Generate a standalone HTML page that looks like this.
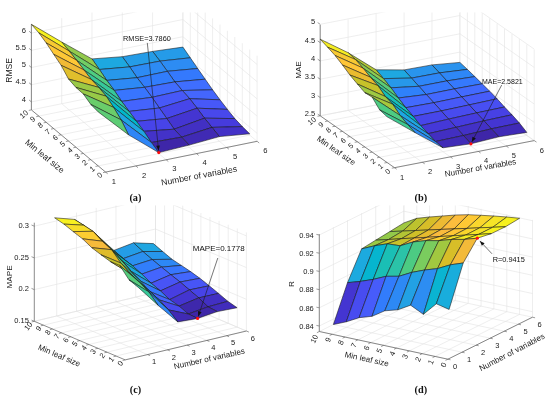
<!DOCTYPE html>
<html lang="en">
<head>
<meta charset="utf-8">
<title>Figure</title>
<style>
html,body{margin:0;padding:0;background:#fff;}
body{width:550px;height:401px;overflow:hidden;}
svg{display:block;font-family:"Liberation Sans",sans-serif;}
.cap{font-family:"Liberation Serif",serif;font-weight:bold;font-size:10.3px;fill:#111;}
</style>
</head>
<body>
<svg width="550" height="401" viewBox="0 0 550 401">
<rect x="0" y="0" width="550" height="401" fill="#ffffff"/>
<clipPath id="clip1"><rect x="0" y="12.5" width="280" height="190"/></clipPath>
<g clip-path="url(#clip1)">
<g stroke-linecap="butt">
<line x1="105.6" y1="172.1" x2="31.4" y2="109.9" stroke="#e2e2e2" stroke-width="0.6"/>
<line x1="31.4" y1="109.9" x2="31.4" y2="24.3" stroke="#e2e2e2" stroke-width="0.6"/>
<line x1="135.9" y1="165.9" x2="61.7" y2="103.7" stroke="#e2e2e2" stroke-width="0.6"/>
<line x1="61.7" y1="103.7" x2="61.7" y2="18.1" stroke="#e2e2e2" stroke-width="0.6"/>
<line x1="166.2" y1="159.8" x2="92" y2="97.6" stroke="#e2e2e2" stroke-width="0.6"/>
<line x1="92" y1="97.6" x2="92" y2="12" stroke="#e2e2e2" stroke-width="0.6"/>
<line x1="196.5" y1="153.6" x2="122.3" y2="91.4" stroke="#e2e2e2" stroke-width="0.6"/>
<line x1="122.3" y1="91.4" x2="122.3" y2="5.8" stroke="#e2e2e2" stroke-width="0.6"/>
<line x1="226.8" y1="147.5" x2="152.6" y2="85.3" stroke="#e2e2e2" stroke-width="0.6"/>
<line x1="152.6" y1="85.3" x2="152.6" y2="-0.3" stroke="#e2e2e2" stroke-width="0.6"/>
<line x1="257.1" y1="141.3" x2="182.9" y2="79.1" stroke="#e2e2e2" stroke-width="0.6"/>
<line x1="182.9" y1="79.1" x2="182.9" y2="-6.5" stroke="#e2e2e2" stroke-width="0.6"/>
<line x1="105.6" y1="172.1" x2="257.1" y2="141.3" stroke="#e2e2e2" stroke-width="0.6"/>
<line x1="257.1" y1="141.3" x2="257.1" y2="55.7" stroke="#e2e2e2" stroke-width="0.6"/>
<line x1="98.2" y1="165.9" x2="249.7" y2="135.1" stroke="#e2e2e2" stroke-width="0.6"/>
<line x1="249.7" y1="135.1" x2="249.7" y2="49.5" stroke="#e2e2e2" stroke-width="0.6"/>
<line x1="90.8" y1="159.7" x2="242.3" y2="128.9" stroke="#e2e2e2" stroke-width="0.6"/>
<line x1="242.3" y1="128.9" x2="242.3" y2="43.3" stroke="#e2e2e2" stroke-width="0.6"/>
<line x1="83.3" y1="153.4" x2="234.8" y2="122.6" stroke="#e2e2e2" stroke-width="0.6"/>
<line x1="234.8" y1="122.6" x2="234.8" y2="37" stroke="#e2e2e2" stroke-width="0.6"/>
<line x1="75.9" y1="147.2" x2="227.4" y2="116.4" stroke="#e2e2e2" stroke-width="0.6"/>
<line x1="227.4" y1="116.4" x2="227.4" y2="30.8" stroke="#e2e2e2" stroke-width="0.6"/>
<line x1="68.5" y1="141" x2="220" y2="110.2" stroke="#e2e2e2" stroke-width="0.6"/>
<line x1="220" y1="110.2" x2="220" y2="24.6" stroke="#e2e2e2" stroke-width="0.6"/>
<line x1="61.1" y1="134.8" x2="212.6" y2="104" stroke="#e2e2e2" stroke-width="0.6"/>
<line x1="212.6" y1="104" x2="212.6" y2="18.4" stroke="#e2e2e2" stroke-width="0.6"/>
<line x1="53.7" y1="128.6" x2="205.2" y2="97.8" stroke="#e2e2e2" stroke-width="0.6"/>
<line x1="205.2" y1="97.8" x2="205.2" y2="12.2" stroke="#e2e2e2" stroke-width="0.6"/>
<line x1="46.2" y1="122.3" x2="197.7" y2="91.5" stroke="#e2e2e2" stroke-width="0.6"/>
<line x1="197.7" y1="91.5" x2="197.7" y2="5.9" stroke="#e2e2e2" stroke-width="0.6"/>
<line x1="38.8" y1="116.1" x2="190.3" y2="85.3" stroke="#e2e2e2" stroke-width="0.6"/>
<line x1="190.3" y1="85.3" x2="190.3" y2="-0.3" stroke="#e2e2e2" stroke-width="0.6"/>
<line x1="31.4" y1="109.9" x2="182.9" y2="79.1" stroke="#e2e2e2" stroke-width="0.6"/>
<line x1="182.9" y1="79.1" x2="182.9" y2="-6.5" stroke="#e2e2e2" stroke-width="0.6"/>
<line x1="31.4" y1="101.9" x2="182.9" y2="71.1" stroke="#e2e2e2" stroke-width="0.6"/>
<line x1="182.9" y1="71.1" x2="257.1" y2="133.3" stroke="#e2e2e2" stroke-width="0.6"/>
<line x1="31.4" y1="84.7" x2="182.9" y2="53.9" stroke="#e2e2e2" stroke-width="0.6"/>
<line x1="182.9" y1="53.9" x2="257.1" y2="116.1" stroke="#e2e2e2" stroke-width="0.6"/>
<line x1="31.4" y1="67.5" x2="182.9" y2="36.7" stroke="#e2e2e2" stroke-width="0.6"/>
<line x1="182.9" y1="36.7" x2="257.1" y2="98.9" stroke="#e2e2e2" stroke-width="0.6"/>
<line x1="31.4" y1="50.3" x2="182.9" y2="19.5" stroke="#e2e2e2" stroke-width="0.6"/>
<line x1="182.9" y1="19.5" x2="257.1" y2="81.7" stroke="#e2e2e2" stroke-width="0.6"/>
<line x1="31.4" y1="33.1" x2="182.9" y2="2.3" stroke="#e2e2e2" stroke-width="0.6"/>
<line x1="182.9" y1="2.3" x2="257.1" y2="64.5" stroke="#e2e2e2" stroke-width="0.6"/>
</g>
<line x1="105.6" y1="172.1" x2="257.1" y2="141.3" stroke="#5a5a5a" stroke-width="0.7"/>
<line x1="105.6" y1="172.1" x2="31.4" y2="109.9" stroke="#5a5a5a" stroke-width="0.7"/>
<line x1="31.4" y1="109.9" x2="31.4" y2="24.3" stroke="#5a5a5a" stroke-width="0.7"/>
<line x1="105.6" y1="172.1" x2="107.7" y2="173.8" stroke="#5a5a5a" stroke-width="0.6"/>
<line x1="135.9" y1="165.9" x2="138" y2="167.7" stroke="#5a5a5a" stroke-width="0.6"/>
<line x1="166.2" y1="159.8" x2="168.3" y2="161.5" stroke="#5a5a5a" stroke-width="0.6"/>
<line x1="196.5" y1="153.6" x2="198.6" y2="155.4" stroke="#5a5a5a" stroke-width="0.6"/>
<line x1="226.8" y1="147.5" x2="228.9" y2="149.2" stroke="#5a5a5a" stroke-width="0.6"/>
<line x1="257.1" y1="141.3" x2="259.2" y2="143" stroke="#5a5a5a" stroke-width="0.6"/>
<line x1="105.6" y1="172.1" x2="103" y2="172.6" stroke="#5a5a5a" stroke-width="0.6"/>
<line x1="98.2" y1="165.9" x2="95.5" y2="166.4" stroke="#5a5a5a" stroke-width="0.6"/>
<line x1="90.8" y1="159.7" x2="88.1" y2="160.2" stroke="#5a5a5a" stroke-width="0.6"/>
<line x1="83.3" y1="153.4" x2="80.7" y2="154" stroke="#5a5a5a" stroke-width="0.6"/>
<line x1="75.9" y1="147.2" x2="73.3" y2="147.8" stroke="#5a5a5a" stroke-width="0.6"/>
<line x1="68.5" y1="141" x2="65.9" y2="141.5" stroke="#5a5a5a" stroke-width="0.6"/>
<line x1="61.1" y1="134.8" x2="58.4" y2="135.3" stroke="#5a5a5a" stroke-width="0.6"/>
<line x1="53.7" y1="128.6" x2="51" y2="129.1" stroke="#5a5a5a" stroke-width="0.6"/>
<line x1="46.2" y1="122.3" x2="43.6" y2="122.9" stroke="#5a5a5a" stroke-width="0.6"/>
<line x1="38.8" y1="116.1" x2="36.2" y2="116.7" stroke="#5a5a5a" stroke-width="0.6"/>
<line x1="31.4" y1="109.9" x2="28.8" y2="110.4" stroke="#5a5a5a" stroke-width="0.6"/>
<line x1="31.4" y1="101.9" x2="29.1" y2="100" stroke="#5a5a5a" stroke-width="0.6"/>
<line x1="31.4" y1="84.7" x2="29.1" y2="82.8" stroke="#5a5a5a" stroke-width="0.6"/>
<line x1="31.4" y1="67.5" x2="29.1" y2="65.6" stroke="#5a5a5a" stroke-width="0.6"/>
<line x1="31.4" y1="50.3" x2="29.1" y2="48.4" stroke="#5a5a5a" stroke-width="0.6"/>
<line x1="31.4" y1="33.1" x2="29.1" y2="31.2" stroke="#5a5a5a" stroke-width="0.6"/>
<g font-size="7.6" fill="#202020">
<text x="113.8" y="183.7" text-anchor="middle">1</text>
<text x="144.1" y="177.5" text-anchor="middle">2</text>
<text x="174.4" y="171.4" text-anchor="middle">3</text>
<text x="204.7" y="165.2" text-anchor="middle">4</text>
<text x="235" y="159.1" text-anchor="middle">5</text>
<text x="265.3" y="152.9" text-anchor="middle">6</text>
<text x="102.9" y="175.7" text-anchor="end" transform="rotate(-40 102.9 175.7)">0</text>
<text x="95.5" y="169.5" text-anchor="end" transform="rotate(-40 95.5 169.5)">1</text>
<text x="88.1" y="163.3" text-anchor="end" transform="rotate(-40 88.1 163.3)">2</text>
<text x="80.6" y="157" text-anchor="end" transform="rotate(-40 80.6 157)">3</text>
<text x="73.2" y="150.8" text-anchor="end" transform="rotate(-40 73.2 150.8)">4</text>
<text x="65.8" y="144.6" text-anchor="end" transform="rotate(-40 65.8 144.6)">5</text>
<text x="58.4" y="138.4" text-anchor="end" transform="rotate(-40 58.4 138.4)">6</text>
<text x="51" y="132.2" text-anchor="end" transform="rotate(-40 51 132.2)">7</text>
<text x="43.5" y="125.9" text-anchor="end" transform="rotate(-40 43.5 125.9)">8</text>
<text x="36.1" y="119.7" text-anchor="end" transform="rotate(-40 36.1 119.7)">9</text>
<text x="28.7" y="113.5" text-anchor="end" transform="rotate(-40 28.7 113.5)">10</text>
<text x="26" y="101.6" text-anchor="end">4</text>
<text x="26" y="84.4" text-anchor="end">4.5</text>
<text x="26" y="67.2" text-anchor="end">5</text>
<text x="26" y="50" text-anchor="end">5.5</text>
<text x="26" y="32.8" text-anchor="end">6</text>
</g>
<g font-size="8.6" fill="#202020" text-anchor="middle">
<text x="12.1" y="70.4" transform="rotate(-90 12.1 70.4)">RMSE</text>
<text x="43" y="158.4" transform="rotate(39.5 43 158.4)">Min leaf size</text>
<text x="199.6" y="178.5" transform="rotate(-10.5 199.6 178.5)">Number of variables</text>
</g>
<g stroke="#141414" stroke-width="0.55" stroke-linejoin="round">
<polygon points="160,61.1 190.3,57.8 182.9,47.1 152.6,51.4" fill="#259be8"/>
<polygon points="129.7,66.9 160,61.1 152.6,51.4 122.3,56.7" fill="#259ce7"/>
<polygon points="99.4,69.5 129.7,66.9 122.3,56.7 92,58.9" fill="#1da8e0"/>
<polygon points="69.1,51 99.4,69.5 92,58.9 61.7,42" fill="#92ca4c"/>
<polygon points="38.8,32.8 69.1,51 61.7,42 31.4,24.3" fill="#f6f11f"/>
<polygon points="167.4,71.3 197.7,68.5 190.3,57.8 160,61.1" fill="#2d8cf3"/>
<polygon points="137.1,77.7 167.4,71.3 160,61.1 129.7,66.9" fill="#2d8bf4"/>
<polygon points="106.8,80.4 137.1,77.7 129.7,66.9 99.4,69.5" fill="#2798ea"/>
<polygon points="76.5,60.2 106.8,80.4 99.4,69.5 69.1,51" fill="#71cd64"/>
<polygon points="46.2,42.9 76.5,60.2 69.1,51 38.8,32.8" fill="#f7c932"/>
<polygon points="174.9,81.9 205.2,79.2 197.7,68.5 167.4,71.3" fill="#3479fd"/>
<polygon points="144.6,87.3 174.9,81.9 167.4,71.3 137.1,77.7" fill="#317dfc"/>
<polygon points="114.3,90.4 144.6,87.3 137.1,77.7 106.8,80.4" fill="#2d89f5"/>
<polygon points="84,70 114.3,90.4 106.8,80.4 76.5,60.2" fill="#4ecc81"/>
<polygon points="53.7,54.3 84,70 76.5,60.2 46.2,42.9" fill="#fec736"/>
<polygon points="182.3,90.5 212.6,89.8 205.2,79.2 174.9,81.9" fill="#3f6eff"/>
<polygon points="152,97.3 182.3,90.5 174.9,81.9 144.6,87.3" fill="#416cfe"/>
<polygon points="121.7,101.4 152,97.3 144.6,87.3 114.3,90.4" fill="#3875fe"/>
<polygon points="91.4,79.5 121.7,101.4 114.3,90.4 84,70" fill="#36c899"/>
<polygon points="61.1,65.3 91.4,79.5 84,70 53.7,54.3" fill="#f0ba36"/>
<polygon points="189.7,98.7 220,99.8 212.6,89.8 182.3,90.5" fill="#4466fd"/>
<polygon points="159.4,108 189.7,98.7 182.3,90.5 152,97.3" fill="#4758f8"/>
<polygon points="129.1,111.4 159.4,108 152,97.3 121.7,101.4" fill="#4464fd"/>
<polygon points="98.8,87.4 129.1,111.4 121.7,101.4 91.4,79.5" fill="#2fc5a3"/>
<polygon points="68.5,79 98.8,87.4 91.4,79.5 61.1,65.3" fill="#e0bf2c"/>
<polygon points="197.1,108.2 227.4,109.4 220,99.8 189.7,98.7" fill="#4758f8"/>
<polygon points="166.8,118.5 197.1,108.2 189.7,98.7 159.4,108" fill="#4746ea"/>
<polygon points="136.5,121.3 166.8,118.5 159.4,108 129.1,111.4" fill="#4854f6"/>
<polygon points="106.2,96.2 136.5,121.3 129.1,111.4 98.8,87.4" fill="#20c1b1"/>
<polygon points="75.9,87.4 106.2,96.2 98.8,87.4 68.5,79" fill="#9ac945"/>
<polygon points="204.5,118.2 234.8,118.6 227.4,109.4 197.1,108.2" fill="#4848ec"/>
<polygon points="174.2,129.2 204.5,118.2 197.1,108.2 166.8,118.5" fill="#4435d1"/>
<polygon points="143.9,131.3 174.2,129.2 166.8,118.5 136.5,121.3" fill="#4744e9"/>
<polygon points="113.6,107.4 143.9,131.3 136.5,121.3 106.2,96.2" fill="#01b8ca"/>
<polygon points="83.3,93.9 113.6,107.4 106.2,96.2 75.9,87.4" fill="#97ca47"/>
<polygon points="212,127.4 242.3,126.6 234.8,118.6 204.5,118.2" fill="#463bdd"/>
<polygon points="181.7,137.1 212,127.4 204.5,118.2 174.2,129.2" fill="#4230c3"/>
<polygon points="151.4,142.5 181.7,137.1 174.2,129.2 143.9,131.3" fill="#4332c9"/>
<polygon points="121.1,119.9 151.4,142.5 143.9,131.3 113.6,107.4" fill="#1fa6e2"/>
<polygon points="90.8,104.4 121.1,119.9 113.6,107.4 83.3,93.9" fill="#6acd6a"/>
<polygon points="219.4,136.6 249.7,133.8 242.3,126.6 212,127.4" fill="#4331c7"/>
<polygon points="189.1,145.1 219.4,136.6 212,127.4 181.7,137.1" fill="#402ab4"/>
<polygon points="158.8,152.6 189.1,145.1 181.7,137.1 151.4,142.5" fill="#3e26a8"/>
<polygon points="128.5,134.8 158.8,152.6 151.4,142.5 121.1,119.9" fill="#2e86f7"/>
<polygon points="98.2,111.9 128.5,134.8 121.1,119.9 90.8,104.4" fill="#5dcc75"/>
</g>
<circle cx="158.8" cy="152.6" r="1.6" fill="#ff0d0d"/>
<line x1="147.3" y1="42.9" x2="158.6" y2="150.6" stroke="#1a1a1a" stroke-width="0.6"/>
<polygon points="158.6,150.6 156.2,145.8 159.9,145.4" fill="#111"/>
<text x="123.1" y="40.8" font-size="7.3" fill="#111">RMSE=3.7860</text>
</g>
<clipPath id="clip2"><rect x="280" y="12.5" width="270" height="190"/></clipPath>
<g clip-path="url(#clip2)">
<g stroke-linecap="butt">
<line x1="394.5" y1="167.7" x2="320.2" y2="115.8" stroke="#e2e2e2" stroke-width="0.6"/>
<line x1="320.2" y1="115.8" x2="320.2" y2="24.8" stroke="#e2e2e2" stroke-width="0.6"/>
<line x1="422.4" y1="162.3" x2="348.1" y2="110.4" stroke="#e2e2e2" stroke-width="0.6"/>
<line x1="348.1" y1="110.4" x2="348.1" y2="19.4" stroke="#e2e2e2" stroke-width="0.6"/>
<line x1="450.4" y1="156.9" x2="376.1" y2="105" stroke="#e2e2e2" stroke-width="0.6"/>
<line x1="376.1" y1="105" x2="376.1" y2="14" stroke="#e2e2e2" stroke-width="0.6"/>
<line x1="478.4" y1="151.4" x2="404.1" y2="99.5" stroke="#e2e2e2" stroke-width="0.6"/>
<line x1="404.1" y1="99.5" x2="404.1" y2="8.5" stroke="#e2e2e2" stroke-width="0.6"/>
<line x1="506.3" y1="146" x2="432" y2="94.1" stroke="#e2e2e2" stroke-width="0.6"/>
<line x1="432" y1="94.1" x2="432" y2="3.1" stroke="#e2e2e2" stroke-width="0.6"/>
<line x1="534.2" y1="140.6" x2="459.9" y2="88.7" stroke="#e2e2e2" stroke-width="0.6"/>
<line x1="459.9" y1="88.7" x2="459.9" y2="-2.3" stroke="#e2e2e2" stroke-width="0.6"/>
<line x1="394.5" y1="167.7" x2="534.2" y2="140.6" stroke="#e2e2e2" stroke-width="0.6"/>
<line x1="534.2" y1="140.6" x2="534.2" y2="49.6" stroke="#e2e2e2" stroke-width="0.6"/>
<line x1="387.1" y1="162.5" x2="526.8" y2="135.4" stroke="#e2e2e2" stroke-width="0.6"/>
<line x1="526.8" y1="135.4" x2="526.8" y2="44.4" stroke="#e2e2e2" stroke-width="0.6"/>
<line x1="379.6" y1="157.3" x2="519.4" y2="130.2" stroke="#e2e2e2" stroke-width="0.6"/>
<line x1="519.4" y1="130.2" x2="519.4" y2="39.2" stroke="#e2e2e2" stroke-width="0.6"/>
<line x1="372.2" y1="152.1" x2="512" y2="125" stroke="#e2e2e2" stroke-width="0.6"/>
<line x1="512" y1="125" x2="512" y2="34" stroke="#e2e2e2" stroke-width="0.6"/>
<line x1="364.8" y1="146.9" x2="504.5" y2="119.8" stroke="#e2e2e2" stroke-width="0.6"/>
<line x1="504.5" y1="119.8" x2="504.5" y2="28.8" stroke="#e2e2e2" stroke-width="0.6"/>
<line x1="357.4" y1="141.8" x2="497.1" y2="114.6" stroke="#e2e2e2" stroke-width="0.6"/>
<line x1="497.1" y1="114.6" x2="497.1" y2="23.6" stroke="#e2e2e2" stroke-width="0.6"/>
<line x1="349.9" y1="136.6" x2="489.7" y2="109.5" stroke="#e2e2e2" stroke-width="0.6"/>
<line x1="489.7" y1="109.5" x2="489.7" y2="18.5" stroke="#e2e2e2" stroke-width="0.6"/>
<line x1="342.5" y1="131.4" x2="482.2" y2="104.3" stroke="#e2e2e2" stroke-width="0.6"/>
<line x1="482.2" y1="104.3" x2="482.2" y2="13.3" stroke="#e2e2e2" stroke-width="0.6"/>
<line x1="335.1" y1="126.2" x2="474.8" y2="99.1" stroke="#e2e2e2" stroke-width="0.6"/>
<line x1="474.8" y1="99.1" x2="474.8" y2="8.1" stroke="#e2e2e2" stroke-width="0.6"/>
<line x1="327.6" y1="121" x2="467.4" y2="93.9" stroke="#e2e2e2" stroke-width="0.6"/>
<line x1="467.4" y1="93.9" x2="467.4" y2="2.9" stroke="#e2e2e2" stroke-width="0.6"/>
<line x1="320.2" y1="115.8" x2="459.9" y2="88.7" stroke="#e2e2e2" stroke-width="0.6"/>
<line x1="459.9" y1="88.7" x2="459.9" y2="-2.3" stroke="#e2e2e2" stroke-width="0.6"/>
<line x1="320.2" y1="115.8" x2="459.9" y2="88.7" stroke="#e2e2e2" stroke-width="0.6"/>
<line x1="459.9" y1="88.7" x2="534.2" y2="140.6" stroke="#e2e2e2" stroke-width="0.6"/>
<line x1="320.2" y1="97.5" x2="459.9" y2="70.4" stroke="#e2e2e2" stroke-width="0.6"/>
<line x1="459.9" y1="70.4" x2="534.2" y2="122.3" stroke="#e2e2e2" stroke-width="0.6"/>
<line x1="320.2" y1="79.2" x2="459.9" y2="52.1" stroke="#e2e2e2" stroke-width="0.6"/>
<line x1="459.9" y1="52.1" x2="534.2" y2="104" stroke="#e2e2e2" stroke-width="0.6"/>
<line x1="320.2" y1="60.9" x2="459.9" y2="33.8" stroke="#e2e2e2" stroke-width="0.6"/>
<line x1="459.9" y1="33.8" x2="534.2" y2="85.7" stroke="#e2e2e2" stroke-width="0.6"/>
<line x1="320.2" y1="42.6" x2="459.9" y2="15.5" stroke="#e2e2e2" stroke-width="0.6"/>
<line x1="459.9" y1="15.5" x2="534.2" y2="67.4" stroke="#e2e2e2" stroke-width="0.6"/>
<line x1="320.2" y1="24.3" x2="459.9" y2="-2.8" stroke="#e2e2e2" stroke-width="0.6"/>
<line x1="459.9" y1="-2.8" x2="534.2" y2="49.1" stroke="#e2e2e2" stroke-width="0.6"/>
</g>
<line x1="394.5" y1="167.7" x2="534.2" y2="140.6" stroke="#5a5a5a" stroke-width="0.7"/>
<line x1="394.5" y1="167.7" x2="320.2" y2="115.8" stroke="#5a5a5a" stroke-width="0.7"/>
<line x1="320.2" y1="115.8" x2="320.2" y2="24.8" stroke="#5a5a5a" stroke-width="0.7"/>
<line x1="394.5" y1="167.7" x2="396.7" y2="169.2" stroke="#5a5a5a" stroke-width="0.6"/>
<line x1="422.4" y1="162.3" x2="424.7" y2="163.8" stroke="#5a5a5a" stroke-width="0.6"/>
<line x1="450.4" y1="156.9" x2="452.6" y2="158.4" stroke="#5a5a5a" stroke-width="0.6"/>
<line x1="478.4" y1="151.4" x2="480.6" y2="153" stroke="#5a5a5a" stroke-width="0.6"/>
<line x1="506.3" y1="146" x2="508.5" y2="147.6" stroke="#5a5a5a" stroke-width="0.6"/>
<line x1="534.2" y1="140.6" x2="536.5" y2="142.1" stroke="#5a5a5a" stroke-width="0.6"/>
<line x1="394.5" y1="167.7" x2="391.8" y2="168.2" stroke="#5a5a5a" stroke-width="0.6"/>
<line x1="387.1" y1="162.5" x2="384.4" y2="163" stroke="#5a5a5a" stroke-width="0.6"/>
<line x1="379.6" y1="157.3" x2="377" y2="157.8" stroke="#5a5a5a" stroke-width="0.6"/>
<line x1="372.2" y1="152.1" x2="369.6" y2="152.6" stroke="#5a5a5a" stroke-width="0.6"/>
<line x1="364.8" y1="146.9" x2="362.1" y2="147.5" stroke="#5a5a5a" stroke-width="0.6"/>
<line x1="357.4" y1="141.8" x2="354.7" y2="142.3" stroke="#5a5a5a" stroke-width="0.6"/>
<line x1="349.9" y1="136.6" x2="347.3" y2="137.1" stroke="#5a5a5a" stroke-width="0.6"/>
<line x1="342.5" y1="131.4" x2="339.8" y2="131.9" stroke="#5a5a5a" stroke-width="0.6"/>
<line x1="335.1" y1="126.2" x2="332.4" y2="126.7" stroke="#5a5a5a" stroke-width="0.6"/>
<line x1="327.6" y1="121" x2="325" y2="121.5" stroke="#5a5a5a" stroke-width="0.6"/>
<line x1="320.2" y1="115.8" x2="317.5" y2="116.3" stroke="#5a5a5a" stroke-width="0.6"/>
<line x1="320.2" y1="115.8" x2="317.7" y2="114.1" stroke="#5a5a5a" stroke-width="0.6"/>
<line x1="320.2" y1="97.5" x2="317.7" y2="95.8" stroke="#5a5a5a" stroke-width="0.6"/>
<line x1="320.2" y1="79.2" x2="317.7" y2="77.5" stroke="#5a5a5a" stroke-width="0.6"/>
<line x1="320.2" y1="60.9" x2="317.7" y2="59.2" stroke="#5a5a5a" stroke-width="0.6"/>
<line x1="320.2" y1="42.6" x2="317.7" y2="40.9" stroke="#5a5a5a" stroke-width="0.6"/>
<line x1="320.2" y1="24.3" x2="317.7" y2="22.6" stroke="#5a5a5a" stroke-width="0.6"/>
<g font-size="7.5" fill="#202020">
<text x="402.1" y="179.7" text-anchor="middle">1</text>
<text x="430.1" y="174.3" text-anchor="middle">2</text>
<text x="458" y="168.9" text-anchor="middle">3</text>
<text x="486" y="163.4" text-anchor="middle">4</text>
<text x="513.9" y="158" text-anchor="middle">5</text>
<text x="541.9" y="152.6" text-anchor="middle">6</text>
<text x="391" y="172.1" text-anchor="end" transform="rotate(-40 391 172.1)">0</text>
<text x="383.6" y="166.9" text-anchor="end" transform="rotate(-40 383.6 166.9)">1</text>
<text x="376.1" y="161.7" text-anchor="end" transform="rotate(-40 376.1 161.7)">2</text>
<text x="368.7" y="156.5" text-anchor="end" transform="rotate(-40 368.7 156.5)">3</text>
<text x="361.3" y="151.3" text-anchor="end" transform="rotate(-40 361.3 151.3)">4</text>
<text x="353.9" y="146.2" text-anchor="end" transform="rotate(-40 353.9 146.2)">5</text>
<text x="346.4" y="141" text-anchor="end" transform="rotate(-40 346.4 141)">6</text>
<text x="339" y="135.8" text-anchor="end" transform="rotate(-40 339 135.8)">7</text>
<text x="331.6" y="130.6" text-anchor="end" transform="rotate(-40 331.6 130.6)">8</text>
<text x="324.1" y="125.4" text-anchor="end" transform="rotate(-40 324.1 125.4)">9</text>
<text x="316.7" y="120.2" text-anchor="end" transform="rotate(-40 316.7 120.2)">10</text>
<text x="315.2" y="115.9" text-anchor="end">2.5</text>
<text x="315.2" y="97.6" text-anchor="end">3</text>
<text x="315.2" y="79.3" text-anchor="end">3.5</text>
<text x="315.2" y="61" text-anchor="end">4</text>
<text x="315.2" y="42.7" text-anchor="end">4.5</text>
<text x="315.2" y="24.4" text-anchor="end">5</text>
</g>
<g font-size="8.1" fill="#202020" text-anchor="middle">
<text x="301.3" y="70" transform="rotate(-90 301.3 70)">MAE</text>
<text x="334.7" y="152.8" transform="rotate(35 334.7 152.8)">Min leaf size</text>
<text x="480.9" y="170.4" transform="rotate(-10 480.9 170.4)">Number of variables</text>
</g>
<g stroke="#141414" stroke-width="0.55" stroke-linejoin="round">
<polygon points="439.4,72.9 467.4,69.4 459.9,62.4 432,64.9" fill="#2a93ee"/>
<polygon points="411.5,78.1 439.4,72.9 432,64.9 404.1,69.9" fill="#2994ed"/>
<polygon points="383.5,78.6 411.5,78.1 404.1,69.9 376.1,69.8" fill="#1ea8e1"/>
<polygon points="355.6,59.6 383.5,78.6 376.1,69.8 348.1,52.7" fill="#b2c635"/>
<polygon points="327.6,47.2 355.6,59.6 348.1,52.7 320.2,39.2" fill="#f5ed22"/>
<polygon points="446.9,80.9 474.8,76.6 467.4,69.4 439.4,72.9" fill="#2e87f7"/>
<polygon points="418.9,86.3 446.9,80.9 439.4,72.9 411.5,78.1" fill="#2e86f7"/>
<polygon points="391,87.8 418.9,86.3 411.5,78.1 383.5,78.6" fill="#2798ea"/>
<polygon points="363,68.1 391,87.8 383.5,78.6 355.6,59.6" fill="#8bcb51"/>
<polygon points="335.1,55.5 363,68.1 355.6,59.6 327.6,47.2" fill="#f7c932"/>
<polygon points="454.3,88.9 482.2,83.8 474.8,76.6 446.9,80.9" fill="#3579fd"/>
<polygon points="426.3,94.5 454.3,88.9 446.9,80.9 418.9,86.3" fill="#3678fe"/>
<polygon points="398.4,98 426.3,94.5 418.9,86.3 391,87.8" fill="#2f81fa"/>
<polygon points="370.4,77.2 398.4,98 391,87.8 363,68.1" fill="#5acc77"/>
<polygon points="342.5,65 370.4,77.2 363,68.1 335.1,55.5" fill="#fec537"/>
<polygon points="461.7,96.9 489.7,91.2 482.2,83.8 454.3,88.9" fill="#426afe"/>
<polygon points="433.8,102.7 461.7,96.9 454.3,88.9 426.3,94.5" fill="#4368fe"/>
<polygon points="405.8,107.7 433.8,102.7 426.3,94.5 398.4,98" fill="#426afe"/>
<polygon points="377.9,85.5 405.8,107.7 398.4,98 370.4,77.2" fill="#3cc991"/>
<polygon points="349.9,75 377.9,85.5 370.4,77.2 342.5,65" fill="#e9bb2f"/>
<polygon points="469.2,104.9 497.1,98.8 489.7,91.2 461.7,96.9" fill="#475cfa"/>
<polygon points="441.2,110.9 469.2,104.9 461.7,96.9 433.8,102.7" fill="#4759f8"/>
<polygon points="413.2,116.4 441.2,110.9 433.8,102.7 405.8,107.7" fill="#4759f8"/>
<polygon points="385.3,96.5 413.2,116.4 405.8,107.7 377.9,85.5" fill="#15bfb8"/>
<polygon points="357.4,84 385.3,96.5 377.9,85.5 349.9,75" fill="#c6c22a"/>
<polygon points="476.6,112.9 504.5,107 497.1,98.8 469.2,104.9" fill="#484ff2"/>
<polygon points="448.6,119.1 476.6,112.9 469.2,104.9 441.2,110.9" fill="#484bee"/>
<polygon points="420.7,125.6 448.6,119.1 441.2,110.9 413.2,116.4" fill="#4746ea"/>
<polygon points="392.7,104.2 420.7,125.6 413.2,116.4 385.3,96.5" fill="#01b9c6"/>
<polygon points="364.8,92.6 392.7,104.2 385.3,96.5 357.4,84" fill="#9ec942"/>
<polygon points="484,120.8 512,114.8 504.5,107 476.6,112.9" fill="#4741e5"/>
<polygon points="456.1,127.3 484,120.8 476.6,112.9 448.6,119.1" fill="#463cdf"/>
<polygon points="428.1,133.7 456.1,127.3 448.6,119.1 420.7,125.6" fill="#4538d8"/>
<polygon points="400.2,115.5 428.1,133.7 420.7,125.6 392.7,104.2" fill="#1ea7e1"/>
<polygon points="372.2,97.2 400.2,115.5 392.7,104.2 364.8,92.6" fill="#a5c83d"/>
<polygon points="491.4,128.8 519.4,123 512,114.8 484,120.8" fill="#4435d2"/>
<polygon points="463.5,135.5 491.4,128.8 484,120.8 456.1,127.3" fill="#4331c6"/>
<polygon points="435.5,141.5 463.5,135.5 456.1,127.3 428.1,133.7" fill="#422fc1"/>
<polygon points="407.6,124.4 435.5,141.5 428.1,133.7 400.2,115.5" fill="#2798ea"/>
<polygon points="379.6,109.8 407.6,124.4 400.2,115.5 372.2,97.2" fill="#4dcc82"/>
<polygon points="498.9,136.8 526.8,132.4 519.4,123 491.4,128.8" fill="#402bb7"/>
<polygon points="470.9,143.8 498.9,136.8 491.4,128.8 463.5,135.5" fill="#3e26a8"/>
<polygon points="443,147.8 470.9,143.8 463.5,135.5 435.5,141.5" fill="#402bb7"/>
<polygon points="415,132.6 443,147.8 435.5,141.5 407.6,124.4" fill="#2d8bf4"/>
<polygon points="387.1,116.8 415,132.6 407.6,124.4 379.6,109.8" fill="#3dc990"/>
</g>
<circle cx="470.9" cy="143.8" r="1.6" fill="#ff0d0d"/>
<line x1="501.7" y1="85" x2="471.8" y2="142" stroke="#1a1a1a" stroke-width="0.6"/>
<polygon points="471.8,142 472.5,136.7 475.9,138.4" fill="#111"/>
<text x="482" y="83.5" font-size="7.0" fill="#111">MAE=2.5821</text>
</g>
<clipPath id="clip3"><rect x="0" y="205.5" width="280" height="196"/></clipPath>
<g clip-path="url(#clip3)">
<g stroke-linecap="butt">
<line x1="147.6" y1="354.6" x2="56.7" y2="316" stroke="#e2e2e2" stroke-width="0.6"/>
<line x1="56.7" y1="316" x2="56.7" y2="217.4" stroke="#e2e2e2" stroke-width="0.6"/>
<line x1="167.4" y1="349.8" x2="76.5" y2="311.2" stroke="#e2e2e2" stroke-width="0.6"/>
<line x1="76.5" y1="311.2" x2="76.5" y2="212.6" stroke="#e2e2e2" stroke-width="0.6"/>
<line x1="187.1" y1="345.1" x2="96.2" y2="306.5" stroke="#e2e2e2" stroke-width="0.6"/>
<line x1="96.2" y1="306.5" x2="96.2" y2="207.9" stroke="#e2e2e2" stroke-width="0.6"/>
<line x1="206.9" y1="340.4" x2="116" y2="301.8" stroke="#e2e2e2" stroke-width="0.6"/>
<line x1="116" y1="301.8" x2="116" y2="203.2" stroke="#e2e2e2" stroke-width="0.6"/>
<line x1="226.6" y1="335.7" x2="135.7" y2="297.1" stroke="#e2e2e2" stroke-width="0.6"/>
<line x1="135.7" y1="297.1" x2="135.7" y2="198.5" stroke="#e2e2e2" stroke-width="0.6"/>
<line x1="246.4" y1="331" x2="155.5" y2="292.4" stroke="#e2e2e2" stroke-width="0.6"/>
<line x1="155.5" y1="292.4" x2="155.5" y2="193.8" stroke="#e2e2e2" stroke-width="0.6"/>
<line x1="125.2" y1="359.9" x2="246.4" y2="331" stroke="#e2e2e2" stroke-width="0.6"/>
<line x1="246.4" y1="331" x2="246.4" y2="232.4" stroke="#e2e2e2" stroke-width="0.6"/>
<line x1="116.1" y1="356" x2="237.3" y2="327.1" stroke="#e2e2e2" stroke-width="0.6"/>
<line x1="237.3" y1="327.1" x2="237.3" y2="228.5" stroke="#e2e2e2" stroke-width="0.6"/>
<line x1="107" y1="352.2" x2="228.2" y2="323.3" stroke="#e2e2e2" stroke-width="0.6"/>
<line x1="228.2" y1="323.3" x2="228.2" y2="224.7" stroke="#e2e2e2" stroke-width="0.6"/>
<line x1="97.9" y1="348.3" x2="219.1" y2="319.4" stroke="#e2e2e2" stroke-width="0.6"/>
<line x1="219.1" y1="319.4" x2="219.1" y2="220.8" stroke="#e2e2e2" stroke-width="0.6"/>
<line x1="88.8" y1="344.5" x2="210" y2="315.6" stroke="#e2e2e2" stroke-width="0.6"/>
<line x1="210" y1="315.6" x2="210" y2="217" stroke="#e2e2e2" stroke-width="0.6"/>
<line x1="79.8" y1="340.6" x2="200.9" y2="311.7" stroke="#e2e2e2" stroke-width="0.6"/>
<line x1="200.9" y1="311.7" x2="200.9" y2="213.1" stroke="#e2e2e2" stroke-width="0.6"/>
<line x1="70.7" y1="336.7" x2="191.8" y2="307.8" stroke="#e2e2e2" stroke-width="0.6"/>
<line x1="191.8" y1="307.8" x2="191.8" y2="209.2" stroke="#e2e2e2" stroke-width="0.6"/>
<line x1="61.6" y1="332.9" x2="182.7" y2="304" stroke="#e2e2e2" stroke-width="0.6"/>
<line x1="182.7" y1="304" x2="182.7" y2="205.4" stroke="#e2e2e2" stroke-width="0.6"/>
<line x1="52.5" y1="329" x2="173.6" y2="300.1" stroke="#e2e2e2" stroke-width="0.6"/>
<line x1="173.6" y1="300.1" x2="173.6" y2="201.5" stroke="#e2e2e2" stroke-width="0.6"/>
<line x1="43.4" y1="325.2" x2="164.6" y2="296.3" stroke="#e2e2e2" stroke-width="0.6"/>
<line x1="164.6" y1="296.3" x2="164.6" y2="197.7" stroke="#e2e2e2" stroke-width="0.6"/>
<line x1="34.3" y1="321.3" x2="155.5" y2="292.4" stroke="#e2e2e2" stroke-width="0.6"/>
<line x1="155.5" y1="292.4" x2="155.5" y2="193.8" stroke="#e2e2e2" stroke-width="0.6"/>
<line x1="34.3" y1="321.3" x2="155.5" y2="292.4" stroke="#e2e2e2" stroke-width="0.6"/>
<line x1="155.5" y1="292.4" x2="246.4" y2="331" stroke="#e2e2e2" stroke-width="0.6"/>
<line x1="34.3" y1="289.6" x2="155.5" y2="260.7" stroke="#e2e2e2" stroke-width="0.6"/>
<line x1="155.5" y1="260.7" x2="246.4" y2="299.3" stroke="#e2e2e2" stroke-width="0.6"/>
<line x1="34.3" y1="257.9" x2="155.5" y2="229" stroke="#e2e2e2" stroke-width="0.6"/>
<line x1="155.5" y1="229" x2="246.4" y2="267.6" stroke="#e2e2e2" stroke-width="0.6"/>
<line x1="34.3" y1="226.2" x2="155.5" y2="197.3" stroke="#e2e2e2" stroke-width="0.6"/>
<line x1="155.5" y1="197.3" x2="246.4" y2="235.9" stroke="#e2e2e2" stroke-width="0.6"/>
</g>
<line x1="125.2" y1="359.9" x2="246.4" y2="331" stroke="#5a5a5a" stroke-width="0.7"/>
<line x1="125.2" y1="359.9" x2="34.3" y2="321.3" stroke="#5a5a5a" stroke-width="0.7"/>
<line x1="34.3" y1="321.3" x2="34.3" y2="222.7" stroke="#5a5a5a" stroke-width="0.7"/>
<line x1="147.6" y1="354.6" x2="150.1" y2="355.6" stroke="#5a5a5a" stroke-width="0.6"/>
<line x1="167.4" y1="349.8" x2="169.9" y2="350.9" stroke="#5a5a5a" stroke-width="0.6"/>
<line x1="187.1" y1="345.1" x2="189.6" y2="346.2" stroke="#5a5a5a" stroke-width="0.6"/>
<line x1="206.9" y1="340.4" x2="209.4" y2="341.5" stroke="#5a5a5a" stroke-width="0.6"/>
<line x1="226.6" y1="335.7" x2="229.1" y2="336.8" stroke="#5a5a5a" stroke-width="0.6"/>
<line x1="246.4" y1="331" x2="248.9" y2="332.1" stroke="#5a5a5a" stroke-width="0.6"/>
<line x1="125.2" y1="359.9" x2="122.6" y2="360.5" stroke="#5a5a5a" stroke-width="0.6"/>
<line x1="116.1" y1="356" x2="113.5" y2="356.7" stroke="#5a5a5a" stroke-width="0.6"/>
<line x1="107" y1="352.2" x2="104.4" y2="352.8" stroke="#5a5a5a" stroke-width="0.6"/>
<line x1="97.9" y1="348.3" x2="95.3" y2="348.9" stroke="#5a5a5a" stroke-width="0.6"/>
<line x1="88.8" y1="344.5" x2="86.2" y2="345.1" stroke="#5a5a5a" stroke-width="0.6"/>
<line x1="79.8" y1="340.6" x2="77.1" y2="341.2" stroke="#5a5a5a" stroke-width="0.6"/>
<line x1="70.7" y1="336.7" x2="68" y2="337.4" stroke="#5a5a5a" stroke-width="0.6"/>
<line x1="61.6" y1="332.9" x2="58.9" y2="333.5" stroke="#5a5a5a" stroke-width="0.6"/>
<line x1="52.5" y1="329" x2="49.9" y2="329.6" stroke="#5a5a5a" stroke-width="0.6"/>
<line x1="43.4" y1="325.2" x2="40.8" y2="325.8" stroke="#5a5a5a" stroke-width="0.6"/>
<line x1="34.3" y1="321.3" x2="31.7" y2="321.9" stroke="#5a5a5a" stroke-width="0.6"/>
<line x1="34.3" y1="321.3" x2="31.5" y2="320.1" stroke="#5a5a5a" stroke-width="0.6"/>
<line x1="34.3" y1="289.6" x2="31.5" y2="288.4" stroke="#5a5a5a" stroke-width="0.6"/>
<line x1="34.3" y1="257.9" x2="31.5" y2="256.7" stroke="#5a5a5a" stroke-width="0.6"/>
<line x1="34.3" y1="226.2" x2="31.5" y2="225" stroke="#5a5a5a" stroke-width="0.6"/>
<g font-size="7.5" fill="#202020">
<text x="154" y="364.3" text-anchor="middle">1</text>
<text x="173.8" y="359.5" text-anchor="middle">2</text>
<text x="193.5" y="354.8" text-anchor="middle">3</text>
<text x="213.3" y="350.1" text-anchor="middle">4</text>
<text x="233" y="345.4" text-anchor="middle">5</text>
<text x="252.8" y="340.7" text-anchor="middle">6</text>
<text x="123.7" y="363.1" text-anchor="end" transform="rotate(-52 123.7 363.1)">0</text>
<text x="114.6" y="359.2" text-anchor="end" transform="rotate(-52 114.6 359.2)">1</text>
<text x="105.5" y="355.4" text-anchor="end" transform="rotate(-52 105.5 355.4)">2</text>
<text x="96.4" y="351.5" text-anchor="end" transform="rotate(-52 96.4 351.5)">3</text>
<text x="87.3" y="347.7" text-anchor="end" transform="rotate(-52 87.3 347.7)">4</text>
<text x="78.2" y="343.8" text-anchor="end" transform="rotate(-52 78.2 343.8)">5</text>
<text x="69.2" y="339.9" text-anchor="end" transform="rotate(-52 69.2 339.9)">6</text>
<text x="60.1" y="336.1" text-anchor="end" transform="rotate(-52 60.1 336.1)">7</text>
<text x="51" y="332.2" text-anchor="end" transform="rotate(-52 51 332.2)">8</text>
<text x="41.9" y="328.4" text-anchor="end" transform="rotate(-52 41.9 328.4)">9</text>
<text x="32.8" y="324.5" text-anchor="end" transform="rotate(-52 32.8 324.5)">10</text>
<text x="28.9" y="322.9" text-anchor="end">0.15</text>
<text x="28.9" y="291.2" text-anchor="end">0.2</text>
<text x="28.9" y="259.5" text-anchor="end">0.25</text>
<text x="28.9" y="227.8" text-anchor="end">0.3</text>
</g>
<g font-size="8.1" fill="#202020" text-anchor="middle">
<text x="11.6" y="276.9" transform="rotate(-90 11.6 276.9)">MAPE</text>
<text x="58.2" y="358" transform="rotate(23 58.2 358)">Min leaf size</text>
<text x="209.9" y="361.3" transform="rotate(-12.5 209.9 361.3)">Number of variables</text>
</g>
<g stroke="#141414" stroke-width="0.55" stroke-linejoin="round">
<polygon points="142.9,251.5 162.7,251.5 153.4,243.6 133.6,242.8" fill="#1fa6e1"/>
<polygon points="123.2,258.6 142.9,251.5 133.6,242.8 113.9,250.4" fill="#249de6"/>
<polygon points="103.4,242.3 123.2,258.6 113.9,250.4 94.1,232.5" fill="#59cc79"/>
<polygon points="83.7,225.2 103.4,242.3 94.1,232.5 74.4,219.4" fill="#fbd32f"/>
<polygon points="63.9,224.1 83.7,225.2 74.4,219.4 54.6,217.8" fill="#f6f020"/>
<polygon points="152.2,259.5 172,259.3 162.7,251.5 142.9,251.5" fill="#2797eb"/>
<polygon points="132.5,265.8 152.2,259.5 142.9,251.5 123.2,258.6" fill="#2b90ef"/>
<polygon points="112.7,251 132.5,265.8 123.2,258.6 103.4,242.3" fill="#33c79d"/>
<polygon points="93,231.3 112.7,251 103.4,242.3 83.7,225.2" fill="#fec835"/>
<polygon points="73.2,231.6 93,231.3 83.7,225.2 63.9,224.1" fill="#f6de29"/>
<polygon points="161.5,267.1 181.3,265.4 172,259.3 152.2,259.5" fill="#2d88f6"/>
<polygon points="141.8,274.1 161.5,267.1 152.2,259.5 132.5,265.8" fill="#317efb"/>
<polygon points="122,260.8 141.8,274.1 132.5,265.8 112.7,251" fill="#08bcbf"/>
<polygon points="102.3,241.2 122,260.8 112.7,251 93,231.3" fill="#e7bb2e"/>
<polygon points="82.5,238.8 102.3,241.2 93,231.3 73.2,231.6" fill="#fdcd31"/>
<polygon points="170.8,274.7 190.6,271.6 181.3,265.4 161.5,267.1" fill="#3777fe"/>
<polygon points="151.1,283.2 170.8,274.7 161.5,267.1 141.8,274.1" fill="#4465fd"/>
<polygon points="131.3,271.4 151.1,283.2 141.8,274.1 122,260.8" fill="#1babde"/>
<polygon points="111.6,249.7 131.3,271.4 122,260.8 102.3,241.2" fill="#bec32e"/>
<polygon points="91.8,247.7 111.6,249.7 102.3,241.2 82.5,238.8" fill="#f6ba3b"/>
<polygon points="180.1,282 199.9,278.3 190.6,271.6 170.8,274.7" fill="#4367fd"/>
<polygon points="160.4,290.9 180.1,282 170.8,274.7 151.1,283.2" fill="#4854f5"/>
<polygon points="140.6,281.1 160.4,290.9 151.1,283.2 131.3,271.4" fill="#2896ec"/>
<polygon points="120.9,263.1 140.6,281.1 131.3,271.4 111.6,249.7" fill="#56cc7b"/>
<polygon points="101.1,254.8 120.9,263.1 111.6,249.7 91.8,247.7" fill="#dfbc2a"/>
<polygon points="189.4,289.9 209.2,285.8 199.9,278.3 180.1,282" fill="#4755f6"/>
<polygon points="169.7,299.6 189.4,289.9 180.1,282 160.4,290.9" fill="#473ee2"/>
<polygon points="149.9,291.6 169.7,299.6 160.4,290.9 140.6,281.1" fill="#3579fd"/>
<polygon points="130.2,273.5 149.9,291.6 140.6,281.1 120.9,263.1" fill="#2ac3a9"/>
<polygon points="110.4,261.6 130.2,273.5 120.9,263.1 101.1,254.8" fill="#c5c22a"/>
<polygon points="198.7,297.9 218.5,293.4 209.2,285.8 189.4,289.9" fill="#4743e7"/>
<polygon points="179,306.1 198.7,297.9 189.4,289.9 169.7,299.6" fill="#4435d0"/>
<polygon points="159.2,299.9 179,306.1 169.7,299.6 149.9,291.6" fill="#4464fd"/>
<polygon points="139.5,282.3 159.2,299.9 149.9,291.6 130.2,273.5" fill="#02bac4"/>
<polygon points="119.7,265.3 139.5,282.3 130.2,273.5 110.4,261.6" fill="#c7c129"/>
<polygon points="208,306.8 227.8,301.3 218.5,293.4 198.7,297.9" fill="#4230c3"/>
<polygon points="188.3,314 208,306.8 198.7,297.9 179,306.1" fill="#3e28ac"/>
<polygon points="168.5,309.9 188.3,314 179,306.1 159.2,299.9" fill="#4849ed"/>
<polygon points="148.8,291.9 168.5,309.9 159.2,299.9 139.5,282.3" fill="#1babde"/>
<polygon points="129,279.8 148.8,291.9 139.5,282.3 119.7,265.3" fill="#55cc7c"/>
<polygon points="217.3,311.6 237.1,307.7 227.8,301.3 208,306.8" fill="#412dbc"/>
<polygon points="197.6,318.4 217.3,311.6 208,306.8 188.3,314" fill="#3e26a8"/>
<polygon points="177.8,321.9 197.6,318.4 188.3,314 168.5,309.9" fill="#402ab4"/>
<polygon points="158.1,305.3 177.8,321.9 168.5,309.9 148.8,291.9" fill="#2e86f7"/>
<polygon points="138.3,287.4 158.1,305.3 148.8,291.9 129,279.8" fill="#36c898"/>
</g>
<circle cx="197.6" cy="318.4" r="1.6" fill="#ff0d0d"/>
<line x1="217.8" y1="258" x2="198.2" y2="316.5" stroke="#1a1a1a" stroke-width="0.6"/>
<polygon points="198.2,316.5 198,311.1 201.6,312.3" fill="#111"/>
<text x="192.8" y="251" font-size="8.0" fill="#111">MAPE=0.1778</text>
</g>
<clipPath id="clip4"><rect x="280" y="205.5" width="270" height="196"/></clipPath>
<g clip-path="url(#clip4)">
<g stroke-linecap="butt">
<line x1="447.9" y1="359.2" x2="319.3" y2="331.5" stroke="#e2e2e2" stroke-width="0.6"/>
<line x1="319.3" y1="331.5" x2="319.3" y2="234.2" stroke="#e2e2e2" stroke-width="0.6"/>
<line x1="462" y1="352.2" x2="333.4" y2="324.5" stroke="#e2e2e2" stroke-width="0.6"/>
<line x1="333.4" y1="324.5" x2="333.4" y2="227.2" stroke="#e2e2e2" stroke-width="0.6"/>
<line x1="476.1" y1="345.2" x2="347.5" y2="317.5" stroke="#e2e2e2" stroke-width="0.6"/>
<line x1="347.5" y1="317.5" x2="347.5" y2="220.2" stroke="#e2e2e2" stroke-width="0.6"/>
<line x1="490.2" y1="338.2" x2="361.6" y2="310.5" stroke="#e2e2e2" stroke-width="0.6"/>
<line x1="361.6" y1="310.5" x2="361.6" y2="213.2" stroke="#e2e2e2" stroke-width="0.6"/>
<line x1="504.3" y1="331.2" x2="375.7" y2="303.5" stroke="#e2e2e2" stroke-width="0.6"/>
<line x1="375.7" y1="303.5" x2="375.7" y2="206.2" stroke="#e2e2e2" stroke-width="0.6"/>
<line x1="518.4" y1="324.2" x2="389.8" y2="296.5" stroke="#e2e2e2" stroke-width="0.6"/>
<line x1="389.8" y1="296.5" x2="389.8" y2="199.2" stroke="#e2e2e2" stroke-width="0.6"/>
<line x1="532.5" y1="317.2" x2="403.9" y2="289.5" stroke="#e2e2e2" stroke-width="0.6"/>
<line x1="403.9" y1="289.5" x2="403.9" y2="192.2" stroke="#e2e2e2" stroke-width="0.6"/>
<line x1="447.9" y1="359.2" x2="532.5" y2="317.2" stroke="#e2e2e2" stroke-width="0.6"/>
<line x1="532.5" y1="317.2" x2="532.5" y2="219.9" stroke="#e2e2e2" stroke-width="0.6"/>
<line x1="435" y1="356.4" x2="519.6" y2="314.4" stroke="#e2e2e2" stroke-width="0.6"/>
<line x1="519.6" y1="314.4" x2="519.6" y2="217.1" stroke="#e2e2e2" stroke-width="0.6"/>
<line x1="422.2" y1="353.7" x2="506.8" y2="311.7" stroke="#e2e2e2" stroke-width="0.6"/>
<line x1="506.8" y1="311.7" x2="506.8" y2="214.4" stroke="#e2e2e2" stroke-width="0.6"/>
<line x1="409.3" y1="350.9" x2="493.9" y2="308.9" stroke="#e2e2e2" stroke-width="0.6"/>
<line x1="493.9" y1="308.9" x2="493.9" y2="211.6" stroke="#e2e2e2" stroke-width="0.6"/>
<line x1="396.5" y1="348.1" x2="481.1" y2="306.1" stroke="#e2e2e2" stroke-width="0.6"/>
<line x1="481.1" y1="306.1" x2="481.1" y2="208.8" stroke="#e2e2e2" stroke-width="0.6"/>
<line x1="383.6" y1="345.3" x2="468.2" y2="303.3" stroke="#e2e2e2" stroke-width="0.6"/>
<line x1="468.2" y1="303.3" x2="468.2" y2="206" stroke="#e2e2e2" stroke-width="0.6"/>
<line x1="370.7" y1="342.6" x2="455.3" y2="300.6" stroke="#e2e2e2" stroke-width="0.6"/>
<line x1="455.3" y1="300.6" x2="455.3" y2="203.3" stroke="#e2e2e2" stroke-width="0.6"/>
<line x1="357.9" y1="339.8" x2="442.5" y2="297.8" stroke="#e2e2e2" stroke-width="0.6"/>
<line x1="442.5" y1="297.8" x2="442.5" y2="200.5" stroke="#e2e2e2" stroke-width="0.6"/>
<line x1="345" y1="337" x2="429.6" y2="295" stroke="#e2e2e2" stroke-width="0.6"/>
<line x1="429.6" y1="295" x2="429.6" y2="197.7" stroke="#e2e2e2" stroke-width="0.6"/>
<line x1="332.2" y1="334.3" x2="416.8" y2="292.3" stroke="#e2e2e2" stroke-width="0.6"/>
<line x1="416.8" y1="292.3" x2="416.8" y2="195" stroke="#e2e2e2" stroke-width="0.6"/>
<line x1="319.3" y1="331.5" x2="403.9" y2="289.5" stroke="#e2e2e2" stroke-width="0.6"/>
<line x1="403.9" y1="289.5" x2="403.9" y2="192.2" stroke="#e2e2e2" stroke-width="0.6"/>
<line x1="319.3" y1="326" x2="403.9" y2="284" stroke="#e2e2e2" stroke-width="0.6"/>
<line x1="403.9" y1="284" x2="532.5" y2="311.7" stroke="#e2e2e2" stroke-width="0.6"/>
<line x1="319.3" y1="307.8" x2="403.9" y2="265.8" stroke="#e2e2e2" stroke-width="0.6"/>
<line x1="403.9" y1="265.8" x2="532.5" y2="293.5" stroke="#e2e2e2" stroke-width="0.6"/>
<line x1="319.3" y1="289.6" x2="403.9" y2="247.6" stroke="#e2e2e2" stroke-width="0.6"/>
<line x1="403.9" y1="247.6" x2="532.5" y2="275.3" stroke="#e2e2e2" stroke-width="0.6"/>
<line x1="319.3" y1="271.4" x2="403.9" y2="229.4" stroke="#e2e2e2" stroke-width="0.6"/>
<line x1="403.9" y1="229.4" x2="532.5" y2="257.1" stroke="#e2e2e2" stroke-width="0.6"/>
<line x1="319.3" y1="253.2" x2="403.9" y2="211.2" stroke="#e2e2e2" stroke-width="0.6"/>
<line x1="403.9" y1="211.2" x2="532.5" y2="238.9" stroke="#e2e2e2" stroke-width="0.6"/>
<line x1="319.3" y1="235" x2="403.9" y2="193" stroke="#e2e2e2" stroke-width="0.6"/>
<line x1="403.9" y1="193" x2="532.5" y2="220.7" stroke="#e2e2e2" stroke-width="0.6"/>
</g>
<line x1="447.9" y1="359.2" x2="532.5" y2="317.2" stroke="#5a5a5a" stroke-width="0.7"/>
<line x1="447.9" y1="359.2" x2="319.3" y2="331.5" stroke="#5a5a5a" stroke-width="0.7"/>
<line x1="319.3" y1="331.5" x2="319.3" y2="234.2" stroke="#5a5a5a" stroke-width="0.7"/>
<line x1="447.9" y1="359.2" x2="450.5" y2="359.8" stroke="#5a5a5a" stroke-width="0.6"/>
<line x1="462" y1="352.2" x2="464.6" y2="352.8" stroke="#5a5a5a" stroke-width="0.6"/>
<line x1="476.1" y1="345.2" x2="478.7" y2="345.8" stroke="#5a5a5a" stroke-width="0.6"/>
<line x1="490.2" y1="338.2" x2="492.8" y2="338.8" stroke="#5a5a5a" stroke-width="0.6"/>
<line x1="504.3" y1="331.2" x2="506.9" y2="331.8" stroke="#5a5a5a" stroke-width="0.6"/>
<line x1="518.4" y1="324.2" x2="521" y2="324.8" stroke="#5a5a5a" stroke-width="0.6"/>
<line x1="532.5" y1="317.2" x2="535.1" y2="317.8" stroke="#5a5a5a" stroke-width="0.6"/>
<line x1="447.9" y1="359.2" x2="445.5" y2="360.4" stroke="#5a5a5a" stroke-width="0.6"/>
<line x1="435" y1="356.4" x2="432.6" y2="357.6" stroke="#5a5a5a" stroke-width="0.6"/>
<line x1="422.2" y1="353.7" x2="419.8" y2="354.9" stroke="#5a5a5a" stroke-width="0.6"/>
<line x1="409.3" y1="350.9" x2="406.9" y2="352.1" stroke="#5a5a5a" stroke-width="0.6"/>
<line x1="396.5" y1="348.1" x2="394" y2="349.3" stroke="#5a5a5a" stroke-width="0.6"/>
<line x1="383.6" y1="345.3" x2="381.2" y2="346.6" stroke="#5a5a5a" stroke-width="0.6"/>
<line x1="370.7" y1="342.6" x2="368.3" y2="343.8" stroke="#5a5a5a" stroke-width="0.6"/>
<line x1="357.9" y1="339.8" x2="355.5" y2="341" stroke="#5a5a5a" stroke-width="0.6"/>
<line x1="345" y1="337" x2="342.6" y2="338.2" stroke="#5a5a5a" stroke-width="0.6"/>
<line x1="332.2" y1="334.3" x2="329.7" y2="335.5" stroke="#5a5a5a" stroke-width="0.6"/>
<line x1="319.3" y1="331.5" x2="316.9" y2="332.7" stroke="#5a5a5a" stroke-width="0.6"/>
<line x1="319.3" y1="326" x2="316.4" y2="325.4" stroke="#5a5a5a" stroke-width="0.6"/>
<line x1="319.3" y1="307.8" x2="316.4" y2="307.2" stroke="#5a5a5a" stroke-width="0.6"/>
<line x1="319.3" y1="289.6" x2="316.4" y2="289" stroke="#5a5a5a" stroke-width="0.6"/>
<line x1="319.3" y1="271.4" x2="316.4" y2="270.8" stroke="#5a5a5a" stroke-width="0.6"/>
<line x1="319.3" y1="253.2" x2="316.4" y2="252.6" stroke="#5a5a5a" stroke-width="0.6"/>
<line x1="319.3" y1="235" x2="316.4" y2="234.4" stroke="#5a5a5a" stroke-width="0.6"/>
<g font-size="7.5" fill="#202020">
<text x="455" y="368.6" text-anchor="middle">0</text>
<text x="469.1" y="361.6" text-anchor="middle">1</text>
<text x="483.2" y="354.6" text-anchor="middle">2</text>
<text x="497.3" y="347.6" text-anchor="middle">3</text>
<text x="511.4" y="340.6" text-anchor="middle">4</text>
<text x="525.5" y="333.6" text-anchor="middle">5</text>
<text x="539.6" y="326.6" text-anchor="middle">6</text>
<text x="446.9" y="363.9" text-anchor="end" transform="rotate(-65 446.9 363.9)">0</text>
<text x="434" y="361.1" text-anchor="end" transform="rotate(-65 434 361.1)">1</text>
<text x="421.2" y="358.4" text-anchor="end" transform="rotate(-65 421.2 358.4)">2</text>
<text x="408.3" y="355.6" text-anchor="end" transform="rotate(-65 408.3 355.6)">3</text>
<text x="395.5" y="352.8" text-anchor="end" transform="rotate(-65 395.5 352.8)">4</text>
<text x="382.6" y="350" text-anchor="end" transform="rotate(-65 382.6 350)">5</text>
<text x="369.7" y="347.3" text-anchor="end" transform="rotate(-65 369.7 347.3)">6</text>
<text x="356.9" y="344.5" text-anchor="end" transform="rotate(-65 356.9 344.5)">7</text>
<text x="344" y="341.7" text-anchor="end" transform="rotate(-65 344 341.7)">8</text>
<text x="331.2" y="339" text-anchor="end" transform="rotate(-65 331.2 339)">9</text>
<text x="318.3" y="336.2" text-anchor="end" transform="rotate(-65 318.3 336.2)">10</text>
<text x="313.8" y="328.7" text-anchor="end">0.84</text>
<text x="313.8" y="310.5" text-anchor="end">0.86</text>
<text x="313.8" y="292.3" text-anchor="end">0.88</text>
<text x="313.8" y="274.1" text-anchor="end">0.9</text>
<text x="313.8" y="255.9" text-anchor="end">0.92</text>
<text x="313.8" y="237.7" text-anchor="end">0.94</text>
</g>
<g font-size="8.1" fill="#202020" text-anchor="middle">
<text x="294.4" y="284" transform="rotate(-90 294.4 284)">R</text>
<text x="366.2" y="361.7" transform="rotate(12.2 366.2 361.7)">Min leaf size</text>
<text x="513.2" y="354.6" transform="rotate(-27.5 513.2 354.6)">Number of variables</text>
</g>
<g stroke="#141414" stroke-width="0.55" stroke-linejoin="round">
<polygon points="402.7,231.1 416.8,218.3 403.9,222.9 389.8,231.6" fill="#a0c841"/>
<polygon points="388.6,239.5 402.7,231.1 389.8,231.6 375.7,240.2" fill="#93ca4a"/>
<polygon points="374.5,245.8 388.6,239.5 375.7,240.2 361.6,248.9" fill="#9ac945"/>
<polygon points="360.4,281.4 374.5,245.8 361.6,248.9 347.5,282.7" fill="#1caadf"/>
<polygon points="346.3,321.8 360.4,281.4 347.5,282.7 333.4,324.5" fill="#4435d1"/>
<polygon points="415.5,230.5 429.6,217 416.8,218.3 402.7,231.1" fill="#bdc32e"/>
<polygon points="401.4,238.7 415.5,230.5 402.7,231.1 388.6,239.5" fill="#b3c534"/>
<polygon points="387.3,243.8 401.4,238.7 388.6,239.5 374.5,245.8" fill="#c3c22b"/>
<polygon points="373.2,279.4 387.3,243.8 374.5,245.8 360.4,281.4" fill="#06b5cf"/>
<polygon points="359.1,317.7 373.2,279.4 360.4,281.4 346.3,321.8" fill="#484cf0"/>
<polygon points="428.4,230 442.5,216 429.6,217 415.5,230.5" fill="#d7be28"/>
<polygon points="414.3,238 428.4,230 415.5,230.5 401.4,238.7" fill="#cfc028"/>
<polygon points="400.2,245.8 414.3,238 401.4,238.7 387.3,243.8" fill="#c9c129"/>
<polygon points="386.1,276.3 400.2,245.8 387.3,243.8 373.2,279.4" fill="#1abfb5"/>
<polygon points="372,316.3 386.1,276.3 373.2,279.4 359.1,317.7" fill="#475cfa"/>
<polygon points="441.2,229.4 455.3,215 442.5,216 428.4,230" fill="#ecba33"/>
<polygon points="427.1,237.3 441.2,229.4 428.4,230 414.3,238" fill="#e7bb2e"/>
<polygon points="413,242 427.1,237.3 414.3,238 400.2,245.8" fill="#f5ba3a"/>
<polygon points="398.9,276.3 413,242 400.2,245.8 386.1,276.3" fill="#2bc3a8"/>
<polygon points="384.8,310.8 398.9,276.3 386.1,276.3 372,316.3" fill="#327cfc"/>
<polygon points="454.1,228.9 468.2,214.7 455.3,215 441.2,229.4" fill="#fdbd3d"/>
<polygon points="440,236.5 454.1,228.9 441.2,229.4 427.1,237.3" fill="#fabb3d"/>
<polygon points="425.9,240.6 440,236.5 427.1,237.3 413,242" fill="#fec537"/>
<polygon points="411.8,272.4 425.9,240.6 413,242 398.9,276.3" fill="#4ccb83"/>
<polygon points="397.7,309.8 411.8,272.4 398.9,276.3 384.8,310.8" fill="#2d89f5"/>
<polygon points="467,228.4 481.1,215.3 468.2,214.7 454.1,228.9" fill="#fec934"/>
<polygon points="452.9,235.8 467,228.4 454.1,228.9 440,236.5" fill="#fec735"/>
<polygon points="438.8,240.7 452.9,235.8 440,236.5 425.9,240.6" fill="#fccf30"/>
<polygon points="424.7,270 438.8,240.7 425.9,240.6 411.8,272.4" fill="#7acc5e"/>
<polygon points="410.6,305.2 424.7,270 411.8,272.4 397.7,309.8" fill="#22a1e4"/>
<polygon points="479.8,227.8 493.9,216 481.1,215.3 467,228.4" fill="#f9d62d"/>
<polygon points="465.7,235.1 479.8,227.8 467,228.4 452.9,235.8" fill="#fad52d"/>
<polygon points="451.6,239.4 465.7,235.1 452.9,235.8 438.8,240.7" fill="#f6e128"/>
<polygon points="437.5,268.6 451.6,239.4 438.8,240.7 424.7,270" fill="#a1c840"/>
<polygon points="423.4,314.3 437.5,268.6 424.7,270 410.6,305.2" fill="#2d8df2"/>
<polygon points="492.7,227.3 506.8,217 493.9,216 479.8,227.8" fill="#f5e427"/>
<polygon points="478.6,234.4 492.7,227.3 479.8,227.8 465.7,235.1" fill="#f5e427"/>
<polygon points="464.5,239.4 478.6,234.4 465.7,235.1 451.6,239.4" fill="#f5ec22"/>
<polygon points="450.4,264.8 464.5,239.4 451.6,239.4 437.5,268.6" fill="#d7be28"/>
<polygon points="436.3,303.8 450.4,264.8 437.5,268.6 423.4,314.3" fill="#0ab4d1"/>
<polygon points="505.5,226.7 519.6,218.3 506.8,217 492.7,227.3" fill="#f6f11e"/>
<polygon points="491.4,233.6 505.5,226.7 492.7,227.3 478.6,234.4" fill="#f6f21e"/>
<polygon points="477.3,238.2 491.4,233.6 478.6,234.4 464.5,239.4" fill="#f9fb15"/>
<polygon points="463.2,263 477.3,238.2 464.5,239.4 450.4,264.8" fill="#f3ba39"/>
<polygon points="449.1,309.4 463.2,263 450.4,264.8 436.3,303.8" fill="#19addc"/>
</g>
<circle cx="477.3" cy="238.2" r="1.6" fill="#ff0d0d"/>
<line x1="492" y1="253.8" x2="479.8" y2="240.9" stroke="#1a1a1a" stroke-width="0.6"/>
<polygon points="479.8,240.9 484.6,243.2 481.9,245.8" fill="#111"/>
<text x="492.7" y="261.6" font-size="7.35" fill="#111">R=0.9415</text>
</g>
<g class="cap" text-anchor="middle">
<text x="135.4" y="201.4">(a)</text>
<text x="420.8" y="201.4">(b)</text>
<text x="135.5" y="393.3">(c)</text>
<text x="420.8" y="393.3">(d)</text>
</g>
</svg>
</body>
</html>
